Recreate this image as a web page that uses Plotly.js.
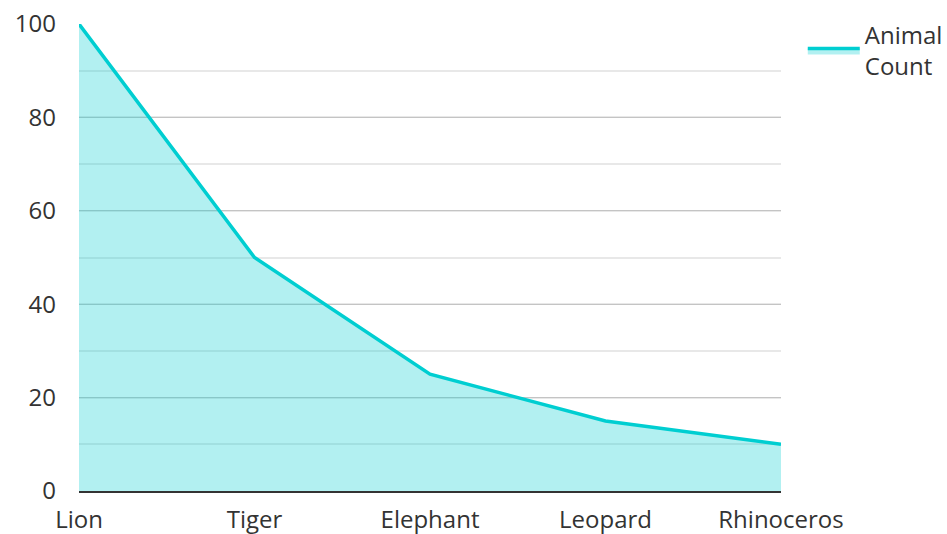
<!DOCTYPE html>
<html>
<head>
<meta charset="utf-8">
<script src="https://cdn.plot.ly/plotly-3.0.1.min.js"></script>
<style>html,body{margin:0;padding:0;background:#fff;}#chart{width:947px;height:534px;}</style>
</head>
<body>
<div id="chart"></div>
<script>
const categories = ["Lion", "Tiger", "Elephant", "Leopard", "Rhinoceros"];
const animalCount = [100, 50, 25, 15, 10];
const seriesName = "Animal<br>Count";
const yTicks = [0, 20, 40, 60, 80, 100];

const trace = {
  x: categories,
  y: animalCount,
  name: seriesName,
  type: "scatter",
  mode: "lines",
  fill: "tozeroy",
  fillcolor: "rgba(0,206,209,0.3)",
  line: {color: "#00CED1", width: 3.5},
  showlegend: true
};

const layout = {
  width: 947, height: 534,
  margin: {l: 79, r: 166, t: 24, b: 43, autoexpand: false},
  paper_bgcolor: "#fff", plot_bgcolor: "#fff",
  font: {family: "Open Sans, sans-serif", size: 24, color: "#333"},
  showlegend: true,
  legend: {x: 1.031, y: 1.024, xanchor: "left", yanchor: "top", font: {size: 24, color: "#333"}, traceorder: "normal", itemwidth: 52},
  xaxis: {
    type: "category",
    range: [0, 4],
    showgrid: false,
    zeroline: false,
    showline: true, linecolor: "#333", linewidth: 2,
    ticks: "", ticklen: 0,
    ticklabelstandoff: 6,
    automargin: false
  },
  yaxis: {
    range: [0, 100],
    tickvals: yTicks,
    showgrid: true, gridcolor: "#c4c4c4", gridwidth: 1,
    minor: {dtick: 10, showgrid: true, gridcolor: "#e8e8e8", gridwidth: 2},
    zeroline: false,
    showline: false,
    ticks: "",
    ticklabelstandoff: 22,
    automargin: false
  }
};

Plotly.newPlot("chart", [trace], layout, {displayModeBar: false, staticPlot: true});
</script>
</body>
</html>
